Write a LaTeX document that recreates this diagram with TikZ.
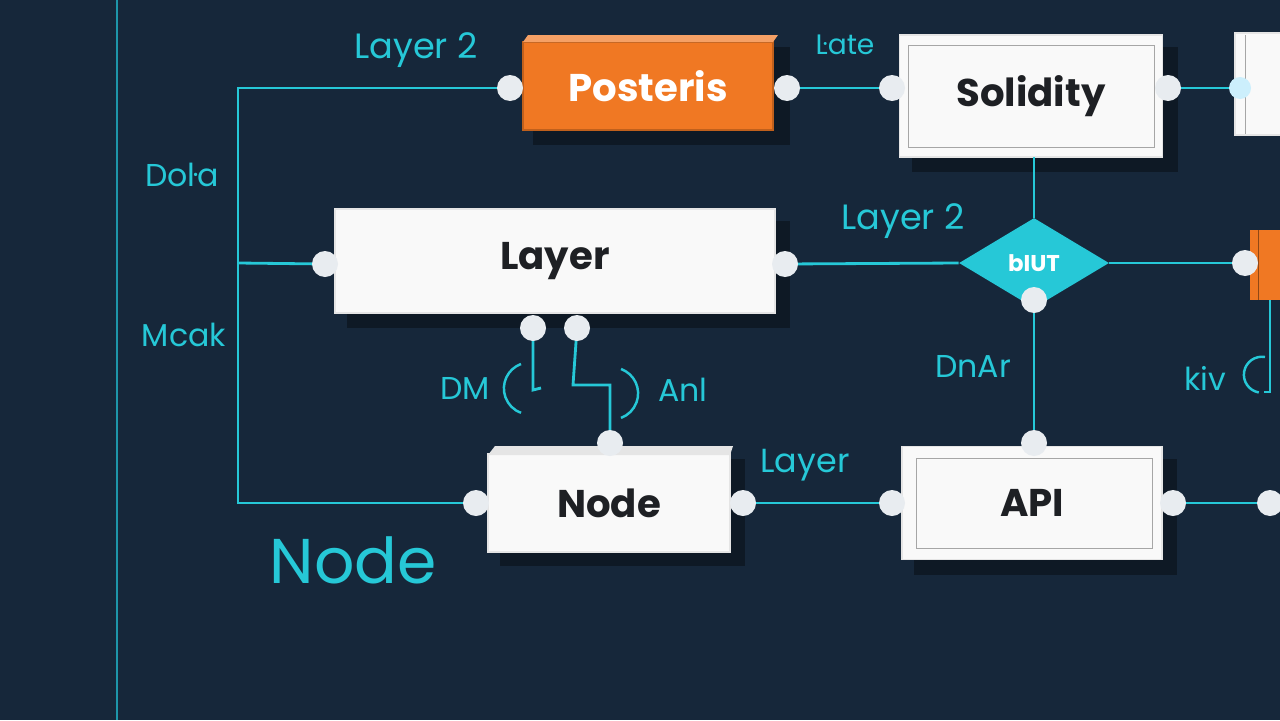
\documentclass[tikz,border=0pt]{standalone}
\usepackage{fontspec}
\setmainfont{Poppins}
\usetikzlibrary{shapes.geometric}
\definecolor{bg}{RGB}{22,39,58}
\definecolor{cy}{RGB}{38,200,215}
\definecolor{cyd}{RGB}{30,150,170}
\definecolor{org}{RGB}{240,120,35}
\definecolor{dot}{RGB}{232,236,240}
\definecolor{txt}{RGB}{30,32,36}
\begin{document}
\begin{tikzpicture}[x=0.02cm,y=-0.02cm,
  ln/.style={cy,line width=1.6pt},
  dt/.style={circle,fill=dot,minimum size=26*0.02cm,inner sep=0pt},
  wbox/.style={fill=white!95!gray,draw=white!80!gray,line width=1pt,font=\fontseries{sb}\fontsize{22}{22}\selectfont,text=txt,inner sep=0pt},
  lab/.style={text=cy,font=\fontsize{18}{18}\selectfont},
  sh/.style={fill=black,opacity=0.35}]
\fill[bg] (0,0) rectangle (1280,720);
\useasboundingbox (0,0) rectangle (1280,720);
\draw[cyd,line width=1.5pt] (117,0) -- (117,720);
% shadows
\fill[sh] (533,47) rectangle (790,145);
\fill[sh] (912,47) rectangle (1178,172);
\fill[sh] (347,221) rectangle (790,328);
\fill[sh] (500,459) rectangle (745,566);
\fill[sh] (914,459) rectangle (1177,575);
% boxes
\node[wbox,fill=org,draw=org!80!black,text=white,minimum width=250*0.02cm,minimum height=88*0.02cm] (post) at (648,86) {Posteris};
\fill[org!70!white] (523,42) -- (528,35) -- (778,35) -- (773,42) -- cycle;
\node[wbox,minimum width=263*0.02cm,minimum height=122*0.02cm] (sol) at (1031,96) {Solidity};
\draw[gray!70] (908,45) rectangle (1154,147);
\node[wbox,minimum width=60*0.02cm,minimum height=102*0.02cm] (rbox) at (1265,84) {};
\draw[gray!70] (1245,35) -- (1245,134);
\node[wbox,minimum width=440*0.02cm,minimum height=104*0.02cm] (lay) at (555,261) {Layer};
\node[wbox,minimum width=242*0.02cm,minimum height=98*0.02cm] (nod) at (609,503) {Node};
\fill[white!80!gray] (488,455) -- (495,446) -- (733,446) -- (730,455) -- cycle;
\node[wbox,minimum width=260*0.02cm,minimum height=113*0.02cm] (api) at (1032,503) {API};
\draw[gray!70] (916,458) rectangle (1152,548);
\node[fill=org,minimum width=35*0.02cm,minimum height=70*0.02cm,inner sep=0pt] (rorg) at (1267,265) {};
\draw[org!60!black] (1258,230) -- (1258,300);
\node[diamond,fill=cy,minimum width=150*0.02cm,minimum height=90*0.02cm,inner sep=0pt,aspect=1.67,text=white,font=\fontseries{sb}\fontsize{13}{13}\selectfont] (dia) at (1034,263) {bIUT};
% dots
\foreach \n/\x/\y in {a/510/88,b/787/88,c/892/88,d/1168/88,f/325/264,g/785/264,h/1245/263,i/1034/300,j/533/328,k/577/328,l/610/443,m/1034/443,n/476/503,o/743/503,p/892/503,q/1173/503,r/1270/503}
  \coordinate (\n) at (\x,\y);
\coordinate (tl) at (238,88);
\coordinate (ml) at (238,263);
\coordinate (bl) at (238,503);
\coordinate (sb) at (1034,157);
\draw[ln] (a) -- (tl) -- (bl) -- (n);
\draw[ln] (ml) -- (f);
\draw[ln] (b) -- (c);
\draw[ln] (d) -- (1240,88);
\draw[ln] (g) -- (dia.west);
\draw[ln] (dia.east) -- (h);
\draw[ln] (sb) -- (dia.north);
\draw[ln] (i) -- (m);
\draw[ln] (o) -- (p);
\draw[ln] (q) -- (r);
\draw[ln] (j) -- (533,390) -- (541,388);
\draw[ln] (k) -- (573,385) -- (610,385) -- (l);
\draw[ln] (1270,300) -- (1270,392) -- (1264,392);
\draw[cy,line width=1.4pt] (521,364) arc (-110:-250:26);
\draw[cy,line width=1.4pt] (621,369) arc (-70:70:26);
\draw[cy,line width=1.4pt] (1265,357) arc (-80:-260:18);
\foreach \n in {a,b,c,d,f,g,h,i,j,k,l,m,n,o,p,q,r}
  \node[dt] (d\n) at (\n) {};
\fill[cyan!20!white] (1240,88) circle (11);
% labels
\node[lab,font=\fontsize{20}{20}\selectfont] (l1) at (416,50) {Layer 2};
\node[lab,font=\fontsize{20}{20}\selectfont] (l2) at (903,221) {Layer 2};
\node[lab,font=\fontsize{16}{16}\selectfont] (l3) at (845,45) {Ŀate};
\node[lab] (l4) at (182,175) {Doŀa};
\node[lab] (l5) at (184,335) {Mcak};
\node[lab] (l6) at (973,366) {DnAr};
\node[lab] (l7) at (1205,378) {kiv};
\node[lab] (l8) at (465,388) {DM};
\node[lab] (l9) at (683,390) {Anl};
\node[lab,font=\fontsize{19}{19}\selectfont] (l10) at (805,465) {Layer};
\node[lab,font=\fontsize{36}{36}\selectfont] (l11) at (353,560) {Node};
\end{tikzpicture}
\end{document}
